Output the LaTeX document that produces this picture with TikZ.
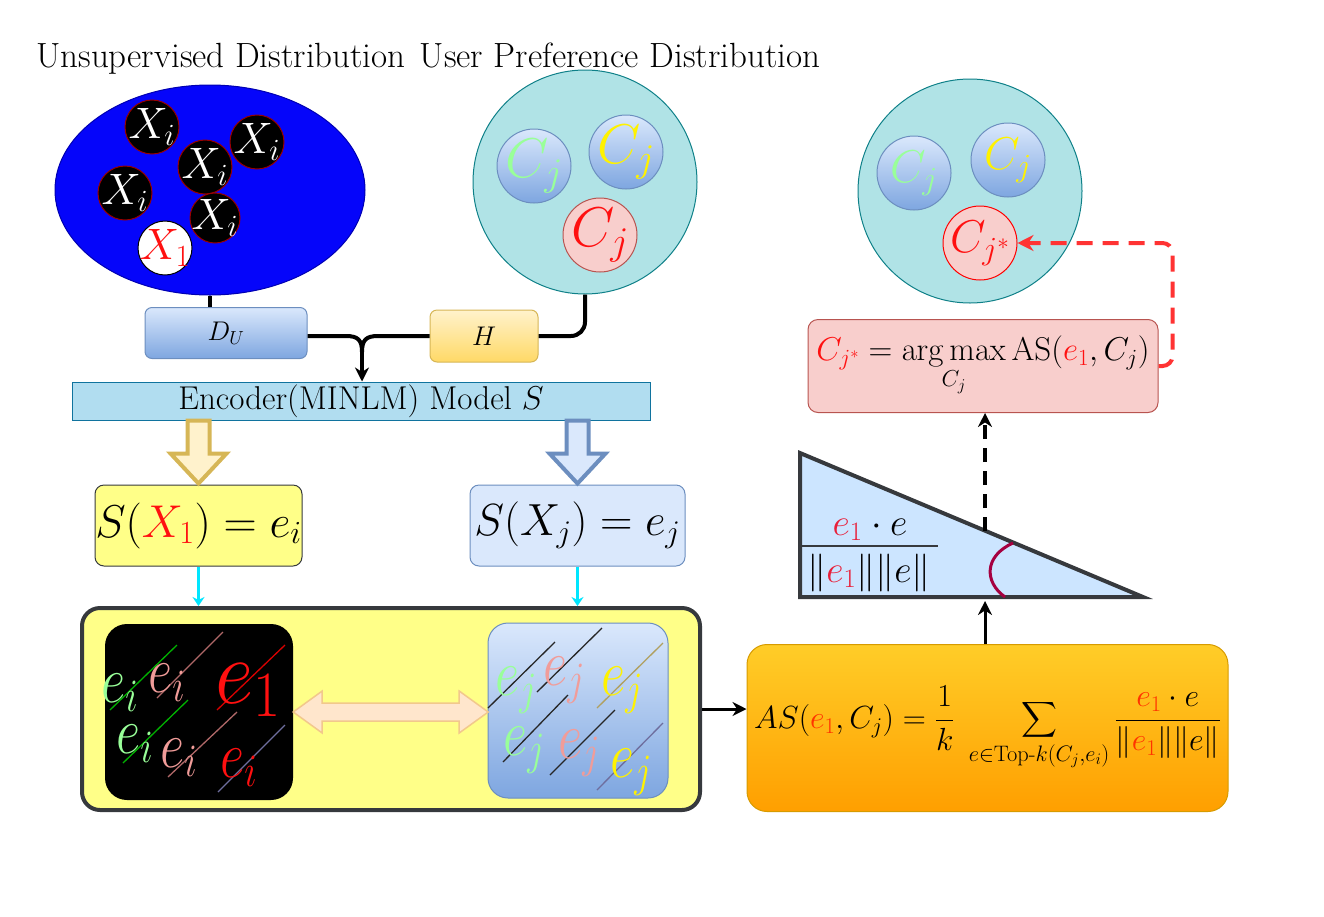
\RequirePackage{fix-cm}
\documentclass[tikz,border=0pt]{standalone}
\usepackage{amsmath}
\usetikzlibrary{arrows.meta,shapes.geometric}
\definecolor{dblue}{RGB}{5,5,250}
\definecolor{cyanfill}{HTML}{B0E3E6}
\definecolor{cyanline}{HTML}{0E8088}
\definecolor{bluetop}{HTML}{DAE8FC}
\definecolor{bluebot}{HTML}{7EA6E0}
\definecolor{blueline}{HTML}{6C8EBF}
\definecolor{yeltop}{HTML}{FFF2CC}
\definecolor{yelbot}{HTML}{FFD966}
\definecolor{yelline}{HTML}{D6B656}
\definecolor{encfill}{HTML}{B1DDF0}
\definecolor{encline}{HTML}{10739E}
\definecolor{lyellow}{HTML}{FFFF88}
\definecolor{dgray}{HTML}{36393D}
\definecolor{pinkfill}{HTML}{F8CECC}
\definecolor{pinkline}{HTML}{B85450}
\definecolor{orgtop}{HTML}{FFCD28}
\definecolor{orgbot}{HTML}{FF9F00}
\definecolor{orgline}{HTML}{D79B00}
\definecolor{trifill}{HTML}{CCE5FF}
\definecolor{arcc}{HTML}{A50040}
\definecolor{lgreen}{HTML}{99FF99}
\definecolor{lpink}{HTML}{F19C99}
\definecolor{myred}{HTML}{FF1010}
\definecolor{dashred}{HTML}{FF3333}
\definecolor{ecrim}{HTML}{E8203A}
\definecolor{eorange}{HTML}{FF3300}
\definecolor{peach}{HTML}{FFE6CC}
\definecolor{peachline}{HTML}{F2C88C}
\definecolor{hbrown}{HTML}{B06868}
\definecolor{hpurple}{HTML}{6E6E9E}
\definecolor{holive}{HTML}{B0A060}
\definecolor{mycyan}{RGB}{0,230,255}
\newcommand{\myfs}[1]{\fontsize{#1}{#1}\selectfont}
\newcommand{\vst}[1]{\scalebox{1}[1.25]{$#1$}}
\tikzset{
  conn/.style={line width=4pt, draw=black},
  tipb/.style={-{Stealth[length=14pt,width=14pt]}},
  xcirc/.style={circle, fill=black, draw=red!60!black, line width=1pt, minimum size=54pt, inner sep=0pt},
  cjcirc/.style={circle, draw=blueline, top color=bluetop, bottom color=bluebot, minimum size=74pt, inner sep=0pt, line width=1pt},
  redcirc/.style={circle, draw=pinkline, fill=pinkfill, minimum size=74pt, inner sep=0pt, line width=1pt},
  bigcirc/.style={circle, fill=cyanfill, draw=cyanline, line width=1pt, minimum size=224pt, inner sep=0pt},
  bluebox/.style={draw=blueline, top color=bluetop, bottom color=bluebot, rounded corners=7pt, line width=1pt, inner sep=0pt},
  ebig/.style={anchor=base west, inner sep=0pt, font=\myfs{53}},
  hatch/.style={line width=1.3pt},
}
\begin{document}
\begin{tikzpicture}[x=1pt,y=-1pt]
\useasboundingbox (0,0) rectangle (1324,916);

% titles
\node[font=\myfs{35}, anchor=base] (t1) at (221,67) {Unsupervised Distribution};
\node[font=\myfs{35}, anchor=base] (t2) at (620,67) {User Preference Distribution};

% unsupervised distribution
\node[ellipse, fill=dblue, draw=blue!70!black, line width=1pt, minimum width=310pt, minimum height=210pt] (uns) at (210,190) {};
\node[xcirc, label={[font=\myfs{44}, text=white]center:$X_i$}] (x1) at (152,127) {};
\node[xcirc, label={[font=\myfs{44}, text=white]center:$X_i$}] (x2) at (257,142) {};
\node[xcirc, label={[font=\myfs{44}, text=white]center:$X_i$}] (x3) at (205,167) {};
\node[xcirc, label={[font=\myfs{44}, text=white]center:$X_i$}] (x4) at (125,193) {};
\node[xcirc, minimum size=50pt, label={[font=\myfs{44}, text=white]center:$X_i$}] (x5) at (215,218) {};
\node[circle, fill=white, draw=black, line width=1pt, minimum size=54pt, inner sep=0pt, label={[font=\myfs{44}, text=myred]center:$X_1$}] (xone) at (165,248) {};

% user preference distribution
\node[bigcirc] (pref) at (585,182) {};
\node[cjcirc, label={[font=\myfs{56}, text=lgreen]center:$C_j$}] (pc1) at (534,166) {};
\node[cjcirc, label={[font=\myfs{56}, text=yellow]center:$C_j$}] (pc2) at (626,152) {};
\node[redcirc, label={[font=\myfs{56}, text=myred]center:$C_j$}] (pc3) at (600,235) {};

% D_U and H
\node[bluebox, minimum width=162pt, minimum height=51pt, font=\myfs{27}] (du) at (226,333) {$D_U$};
\node[draw=yelline, top color=yeltop, bottom color=yelbot, rounded corners=7pt, line width=1pt, minimum width=108pt, minimum height=52pt, font=\myfs{27}] (h) at (484,336) {$H$};

% encoder
\node[draw=encline, fill=encfill, line width=1pt, minimum width=578pt, minimum height=38pt, inner sep=0pt, font=\myfs{33}] (enc) at (361,401) {Encoder(MINLM) Model $S$};

\draw[conn] (uns.south) -- (uns.south |- du.north);
\draw[conn, rounded corners=14pt] (pref.south) -- (pref.south |- h.east) -- (h.east);
\coordinate (m) at (362,352);
\draw[conn] (du.east |- h.west) -- (346,336) .. controls (358,336) and (362,340) .. (m);
\draw[conn] (h.west) -- (378,336) .. controls (366,336) and (362,340) .. (m);
\draw[conn, tipb] (m) -- (m |- enc.north);

% S boxes
\node[draw=dgray, fill=lyellow, rounded corners=9pt, line width=1pt, minimum width=207pt, minimum height=81pt, inner sep=0pt, font=\myfs{46}] (sx1) at (198.5,525.5) {$S(\textcolor{myred}{X_1}) = e_i$};
\node[draw=blueline, fill=bluetop, rounded corners=9pt, line width=1pt, minimum width=215pt, minimum height=81pt, inner sep=0pt, font=\myfs{45}] (sxj) at (577.5,525.5) {$S(X_j) = e_j$};

% hollow block arrows
\draw[fill=yeltop, draw=yelline, line width=4pt, line join=miter] (enc.south -| sx1.north) ++(-11,0) -- ++(22,0) -- ++(0,33) -- ++(17,0) -- ++(-28,30) -- ++(-28,-30) -- ++(17,0) -- cycle;
\draw[fill=bluetop, draw=blueline, line width=4pt, line join=miter] (enc.south -| sxj.north) ++(-11,0) -- ++(22,0) -- ++(0,33) -- ++(17,0) -- ++(-28,30) -- ++(-28,-30) -- ++(17,0) -- cycle;

% big yellow box
\node[draw=dgray, fill=lyellow, line width=4pt, rounded corners=18pt, minimum width=618pt, minimum height=202pt] (big) at (391,709) {};
\draw[mycyan, line width=3pt, -{Stealth[length=9pt,width=12pt]}] (sx1.south) -- (sx1.south |- big.north);
\draw[mycyan, line width=3pt, -{Stealth[length=9pt,width=12pt]}] (sxj.south) -- (sxj.south |- big.north);

\node[fill=black, rounded corners=22pt, minimum width=188pt, minimum height=176pt] (blk) at (199,712) {};
\node[bluebox, rounded corners=20pt, minimum width=180pt, minimum height=175pt] (blb) at (578,710.5) {};

% hatching black box
\draw[hatch, green!70!black] (110,710) -- (177,645);
\draw[hatch, green!70!black] (123,763) -- (188,700);
\draw[hatch, hbrown] (157,698) -- (223,632);
\draw[hatch, hbrown] (168,777) -- (237,712);
\draw[hatch, red!85!black] (217,710) -- (285,645);
\draw[hatch, hpurple] (218,792) -- (285,725);
% texts black box
\node[ebig, text=lgreen] (b1) at (101,702) {\vst{e_i}};
\node[ebig, text=lpink] (b2) at (148,692) {\vst{e_i}};
\node[ebig, text=myred, font=\myfs{84}] (b3) at (215,703) {\scalebox{1}[1.1]{$e_1$}};
\node[ebig, text=lgreen] (b4) at (116,753) {\vst{e_i}};
\node[ebig, text=lpink] (b5) at (160,767) {\vst{e_i}};
\node[ebig, text=myred] (b6) at (220,777) {\vst{e_i}};

% hatching blue box
\draw[hatch, black!85] (488,708) -- (555,642);
\draw[hatch, black!85] (537,692) -- (602,628);
\draw[hatch, black!85] (503,762) -- (568,695);
\draw[hatch, black!85] (550,775) -- (615,710);
\draw[hatch, holive] (597,708) -- (663,643);
\draw[hatch, hpurple] (597,790) -- (663,723);
% texts blue box
\node[ebig, text=lgreen] (c1) at (495,695) {\vst{e_j}};
\node[ebig, text=lpink] (c2) at (543,685) {\vst{e_j}};
\node[ebig, text=yellow] (c3) at (601,695) {\vst{e_j}};
\node[ebig, text=lgreen] (c4) at (503,755) {\vst{e_j}};
\node[ebig, text=lpink] (c5) at (558,758) {\vst{e_j}};
\node[ebig, text=yellow] (c6) at (610,777) {\vst{e_j}};

% double arrow
\begin{scope}[shift={(blk.east)}]
\draw[fill=peach, draw=peachline, line width=1.5pt, line join=miter]
  (0,0) -- (29,-21) -- (29,-9) -- (166,-9) -- (166,-21) -- (195,0) -- (166,21) -- (166,9) -- (29,9) -- (29,21) -- cycle;
\end{scope}

% AS box
\node[draw=orgline, top color=orgtop, bottom color=orgbot, line width=1pt, rounded corners=20pt, minimum width=481pt, minimum height=167pt, inner sep=0pt, font=\myfs{32}] (as) at (987.5,728)
 {$\displaystyle AS(\textcolor{eorange}{e_1}, C_j) = \frac{1}{k}\;\sum_{e\in\mathrm{Top}\text{-}k(C_j,e_i)} \frac{\textcolor{eorange}{e_1}\cdot e}{\|\textcolor{eorange}{e_1}\|\|e\|}$};
\draw[line width=3pt, tipb] (big.east) -- (big.east -| as.west);

% triangle
\coordinate (tA) at (800,453);
\coordinate (tB) at (800,597);
\coordinate (tC) at (1143,597);
\draw[fill=trifill, draw=dgray, line width=4pt, line join=miter] (tA) -- (tB) -- (tC) -- cycle;
\node[font=\myfs{38}, inner sep=0pt, anchor=base] (num) at (870,535) {$\textcolor{ecrim}{e_1}\cdot e$};
\node[font=\myfs{38}, inner sep=0pt, anchor=base] (den) at (869,582) {$\|\textcolor{ecrim}{e_1}\|\|e\|$};
\draw[line width=2pt, dgray] (tA |- 0,546) -- (938,546);
\draw[arcc, line width=3pt] (1013,543) .. controls (984,556) and (984,582) .. (1005,597);
\draw[line width=3pt, tipb] (as.north -| 985,0) -- (985,601);
\coordinate (hyp) at (985,531);

% argmax box
\node[draw=pinkline, fill=pinkfill, line width=1pt, rounded corners=10pt, minimum width=350pt, minimum height=93pt, inner sep=0pt, font=\myfs{33}] (am) at (983,366)
 {$\displaystyle \textcolor{myred}{C_{j^*}} = \operatorname*{arg\,max}_{C_j} \mathrm{AS}(\textcolor{myred}{e_1}, C_j)$};
\draw[line width=4pt, dash pattern=on 14pt off 9pt, tipb] (hyp) -- (hyp |- am.south);

% result circle
\node[bigcirc] (res) at (970,191) {};
\node[cjcirc, label={[font=\myfs{46}, text=lgreen]center:$C_j$}] (rc1) at (914,173) {};
\node[cjcirc, label={[font=\myfs{46}, text=yellow]center:$C_j$}] (rc2) at (1008,160) {};
\node[circle, draw=red, fill=pinkfill, line width=1pt, minimum size=74pt, inner sep=0pt, label={[font=\myfs{46}, text=myred]center:$C_{j^*}$}] (cstar) at (980,243) {};

\draw[dashred, line width=4pt, dash pattern=on 16pt off 10pt, rounded corners=10pt, -{Stealth[length=16pt,width=16pt]}] (am.east) -- ++(14,0) |- (cstar.east);
\end{tikzpicture}
\end{document}
